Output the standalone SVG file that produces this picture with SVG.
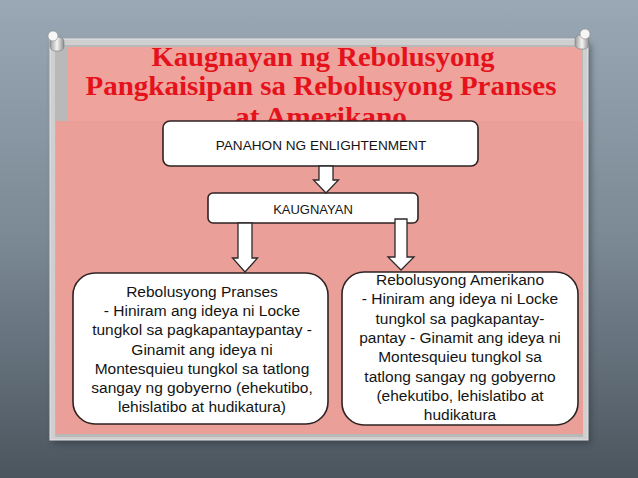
<svg xmlns="http://www.w3.org/2000/svg" width="638" height="478" viewBox="0 0 638 478">
<defs>
<linearGradient id="bg" x1="0" y1="0" x2="0" y2="1">
<stop offset="0" stop-color="#99a8b4"/>
<stop offset="0.5" stop-color="#7b8995"/>
<stop offset="1" stop-color="#4b555e"/>
</linearGradient>
<linearGradient id="pin" x1="0" y1="0" x2="1" y2="0">
<stop offset="0" stop-color="#9a9a9a"/>
<stop offset="0.5" stop-color="#f4f4f4"/>
<stop offset="1" stop-color="#8c8c8c"/>
</linearGradient>
<filter id="sh" x="-5%" y="-5%" width="110%" height="115%">
<feGaussianBlur stdDeviation="3"/>
</filter>
<style>
.title{font-family:"Liberation Serif","DejaVu Serif",serif;font-weight:bold;font-size:27px;fill:#e5111b;text-anchor:middle}
.box{fill:#ffffff;stroke:#2e2222;stroke-width:1.6}
.lbl{font-family:"Liberation Sans",Arial,sans-serif;fill:#141414;text-anchor:middle}
.body{font-family:"Liberation Sans",Arial,sans-serif;font-size:15.5px;fill:#141414;text-anchor:middle}
.arrow{fill:#ffffff;stroke:#2a2a2a;stroke-width:1.3;stroke-linejoin:miter}
</style>
</defs>
<rect x="0" y="0" width="638" height="478" fill="url(#bg)"/>
<!-- frame -->
<rect x="53" y="44" width="538" height="400" fill="#2f363c" opacity="0.55" filter="url(#sh)"/>
<rect x="50" y="39" width="538" height="401" fill="#cfcfcf" stroke="#e6e6e6" stroke-width="1"/>
<rect x="55" y="45" width="528" height="392" fill="#b9b9b9"/>
<rect x="67" y="47" width="514" height="76" fill="#eea39d"/>
<g id="title">
<text class="title" x="323" y="66" textLength="343" lengthAdjust="spacingAndGlyphs">Kaugnayan ng Rebolusyong</text>
<text class="title" x="321" y="95" textLength="471" lengthAdjust="spacingAndGlyphs">Pangkaisipan sa Rebolusyong Pranses</text>
<text class="title" x="321" y="126" textLength="172" lengthAdjust="spacingAndGlyphs">at Amerikano</text>
</g>
<rect x="56" y="121" width="527" height="313" fill="#ea9f98"/>
<!-- pins -->
<g id="pins">
<rect x="50" y="37" width="14" height="14" rx="5" fill="url(#pin)" stroke="#7a7a7a" stroke-width="0.6"/>
<ellipse cx="53" cy="36" rx="5" ry="5" fill="#f6f6f6" stroke="#8a8a8a" stroke-width="0.6"/>
<rect x="575" y="35" width="14" height="14" rx="5" fill="url(#pin)" stroke="#7a7a7a" stroke-width="0.6"/>
<ellipse cx="585" cy="34" rx="5" ry="5" fill="#f6f6f6" stroke="#8a8a8a" stroke-width="0.6"/>
</g>
<!-- nodes -->
<g id="panahon">
<rect class="box" x="163" y="121" width="315" height="45" rx="7"/>
<text class="lbl" x="321" y="150" font-size="13.6">PANAHON NG ENLIGHTENMENT</text>
</g>
<g id="kaugnayan">
<rect class="box" x="208" y="193" width="210" height="30" rx="5"/>
<text class="lbl" x="313" y="214" font-size="13">KAUGNAYAN</text>
</g>
<g id="pranses">
<rect class="box" x="73" y="273" width="255" height="151" rx="22"/>
<text class="body" x="202" y="297">Rebolusyong Pranses</text>
<text class="body" x="202" y="316">- Hiniram ang ideya ni Locke</text>
<text class="body" x="202" y="335">tungkol sa pagkapantaypantay -</text>
<text class="body" x="202" y="354.5">Ginamit ang ideya ni</text>
<text class="body" x="202" y="373.5">Montesquieu tungkol sa tatlong</text>
<text class="body" x="202" y="392.5">sangay ng gobyerno (ehekutibo,</text>
<text class="body" x="202" y="411.5">lehislatibo at hudikatura)</text>
</g>
<g id="amerikano">
<rect class="box" x="342" y="272" width="236" height="153" rx="22"/>
<text class="body" x="460" y="285">Rebolusyong Amerikano</text>
<text class="body" x="460" y="304.3">- Hiniram ang ideya ni Locke</text>
<text class="body" x="460" y="323.6">tungkol sa pagkapantay-</text>
<text class="body" x="460" y="342.9">pantay - Ginamit ang ideya ni</text>
<text class="body" x="460" y="362.2">Montesquieu tungkol sa</text>
<text class="body" x="460" y="381.5">tatlong sangay ng gobyerno</text>
<text class="body" x="460" y="400.8">(ehekutibo, lehislatibo at</text>
<text class="body" x="460" y="420">hudikatura</text>
</g>
<!-- connectors -->
<g id="connectors">
<path class="arrow" d="M319,166 L333,166 L333,180 L338.5,180 L326,193 L313.5,180 L319,180 Z"/>
<path class="arrow" d="M238,223 L252,223 L252,258 L257.5,258 L245,272 L232.5,258 L238,258 Z"/>
<path class="arrow" d="M395,219 L407,219 L407,257 L414,257 L401,270 L388,257 L395,257 Z"/>
</g>
</svg>
